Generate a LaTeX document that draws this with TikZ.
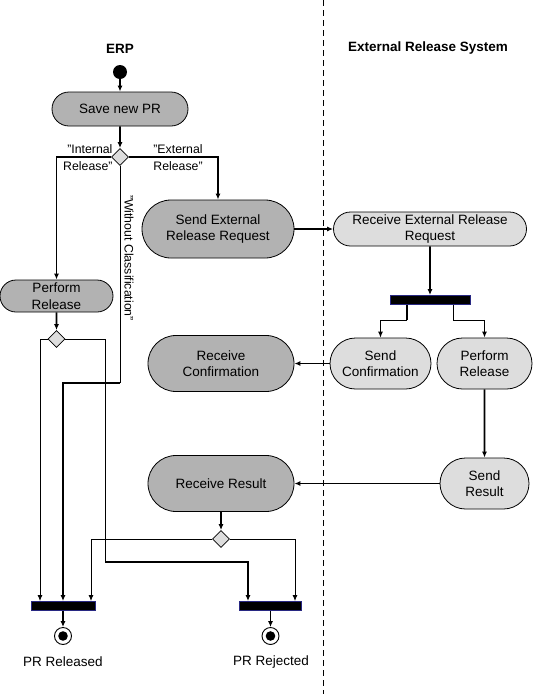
\documentclass[tikz,border=0pt]{standalone}
\usepackage{fontspec}
\setmainfont{Liberation Sans}
\usepackage{xcolor}
\usetikzlibrary{arrows.meta, shapes.geometric, shapes.misc, positioning}

\definecolor{actdark}{RGB}{178,178,178}
\definecolor{actlight}{RGB}{221,221,221}
\definecolor{barblue}{RGB}{40,40,130}

\tikzset{
    darkact/.style={rounded rectangle, draw, line width=0.8pt, fill=actdark, align=center, inner sep=0pt},
    lightact/.style={rounded rectangle, draw, line width=0.8pt, fill=actlight, align=center, inner sep=0pt},
    decision/.style={diamond, draw, line width=0.8pt, fill=actlight, inner sep=0pt, minimum width=17pt, minimum height=17pt},
    syncbar/.style={rectangle, draw=barblue, line width=0.9pt, fill=black, inner sep=0pt, minimum height=9pt},
    finalnode/.style={circle, draw, line width=0.9pt, fill=white, inner sep=0pt, minimum size=17pt,
        path picture={\fill[black] (path picture bounding box.center) circle (4.8pt);}},
    guardlbl/.style={font=\fontsize{12.3}{17}\selectfont},
    thinline/.style={line width=0.9pt},
    thickline/.style={line width=1.8pt},
    flow/.style={thickline, -{Latex[length=6pt,width=5pt]}},
    thinflow/.style={thinline, -{Latex[length=6pt,width=5pt]}}
}

\begin{document}
\begin{tikzpicture}[x=1pt, y=-1pt, font=\fontsize{13.5}{16.5}\selectfont]
    \useasboundingbox (0,0) rectangle (533,694);

    % swimlanes
    \node[font=\fontsize{13.5}{16}\selectfont\bfseries] (erp) at (120,49) {ERP};
    \node[font=\fontsize{13.5}{16}\selectfont\bfseries] (ers) at (428,48) {External Release System};
    \draw[thinline, dash pattern=on 6pt off 4pt] (323,0) -- (323,694);

    % ERP
    \node[circle, fill=black, minimum size=14pt, inner sep=0pt] (start) at (120,72) {};
    \node[darkact, minimum width=136pt, minimum height=34pt] (save) at (120,109) {Save new PR};
    \node[decision] (split) at (120,157) {};
    \node[guardlbl, anchor=east, align=right] (intlbl) at (116,158) {"Internal\\Release"};
    \node[guardlbl, align=center] (extlbl) at (178,158) {"External\\Release"};
    \node[guardlbl, rotate=-90] (wclbl) at (129,258) {"Without Classification"};
    \node[darkact, minimum width=113pt, minimum height=32pt] (perf) at (56.5,296) {Perform\\Release};
    \node[decision] (chk) at (56.5,339) {};
    \node[darkact, minimum width=152pt, minimum height=58pt] (sendreq) at (218,229) {Send External\\Release Request};
    \node[darkact, minimum width=146pt, minimum height=56pt] (recconf) at (221,363.5) {Receive\\Confirmation};
    \node[darkact, minimum width=146pt, minimum height=56pt] (recres) at (221,483.5) {Receive Result};
    \node[decision] (res) at (221,539) {};
    \node[syncbar, minimum width=64pt] (joinok) at (63,606) {};
    \node[syncbar, minimum width=62pt] (joinno) at (270.5,606) {};
    \node[finalnode] (endok) at (63,636) {};
    \node[finalnode] (endno) at (270.5,636) {};
    \node (oklbl) at (63,662) {PR Released};
    \node (nolbl) at (271,662) {PR Rejected};

    % External Release System
    \node[lightact, minimum width=193pt, minimum height=34pt] (recreq) at (430,229) {Receive External Release\\Request};
    \node[syncbar, minimum width=80pt] (fork) at (430,300) {};
    \node[lightact, minimum width=101pt, minimum height=51pt] (sendconf) at (380.5,363.5) {Send\\Confirmation};
    \node[lightact, minimum width=95pt, minimum height=51pt] (perfext) at (484.5,363.5) {Perform\\Release};
    \node[lightact, minimum width=89pt, minimum height=51pt] (sendres) at (484.5,483.5) {Send\\Result};

    \coordinate (wc) at (120,383);
    \coordinate (fl) at (407,320);
    \coordinate (fr) at (453,320);
    \coordinate (rt) at (105,562);

    \draw[flow] (start) -- (save);
    \draw[flow] (save) -- (split);
    \draw[flow] (split.west) -| (perf.north);
    \draw[flow] (split.east) -| (sendreq.north);
    \draw[thinline] (split.south) -- (wc);
    \draw[flow] (wc) -| (joinok.north);
    \draw[flow] (sendreq.east) -- (recreq.west);
    \draw[flow] (recreq) -- (fork);
    \draw[thickline] (fork.south -| fl) -- (fl);
    \draw[thinflow] (fl) -| (sendconf.north);
    \draw[thinline] (fork.south -| fr) |- (perfext.north |- fr);
    \draw[flow] (perfext.north |- fr) -- (perfext.north);
    \draw[flow] (sendconf.west) -- (recconf.east);
    \draw[flow] (perfext) -- (sendres);
    \draw[flow] (sendres.west) -- (recres.east);
    \draw[flow] (recres) -- (res);
    \draw[thinflow] (res.west) -| ([xshift=28pt]joinok.north);
    \draw[thinflow] (res.east) -| ([xshift=24.5pt]joinno.north);
    \draw[flow] (perf) -- (chk);
    \draw[thinflow] (chk.west) -| ([xshift=-23pt]joinok.north);
    \draw[thinline] (chk.east) -| (rt);
    \draw[flow] (rt) -| ([xshift=-22.5pt]joinno.north);
    \draw[flow] (joinok) -- (endok);
    \draw[flow] (joinno) -- (endno);
\end{tikzpicture}
\end{document}
